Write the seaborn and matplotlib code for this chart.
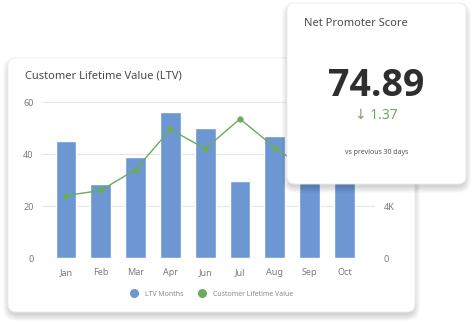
import numpy as np
import pandas as pd
import matplotlib
matplotlib.use("Agg")
import matplotlib.pyplot as plt
from matplotlib.patches import FancyBboxPatch
from matplotlib.lines import Line2D
from matplotlib.transforms import Affine2D
import seaborn as sns

months = ["Jan", "Feb", "Mar", "Apr", "Jun", "Jul", "Aug", "Sep", "Oct"]
ltv_months = [45, 28.5, 39, 56, 50, 29.5, 47, 40, 44]
ltv_value = [4800, 5200, 6800, 9900, 8400, 10700, 8500, 6600, 7200]
left_ticks = [0, 20, 40, 60]
right_ticks = [0, 4000]
right_tick_labels = ["0", "4K"]
nps_title = "Net Promoter Score"
nps_value = "74.89"
nps_delta = "↓ 1.37"
nps_note = "vs previous 30 days"

sns.set_theme(style="white")
plt.rcParams['font.family'] = ['Noto Sans', 'DejaVu Sans']

W, H, DPI = 474, 324, 100
fig = plt.figure(figsize=(W / DPI, H / DPI), dpi=DPI)
fig.patch.set_facecolor("white")
px = Affine2D().scale(1 / DPI) + fig.dpi_scale_trans


def card(x0, y0, x1, y1, z):
    # coordinates in pixels from top-left
    for i in range(7):
        g = 6 - i
        sh = FancyBboxPatch((x0 - g + 1, H - y1 - g - 3), (x1 - x0) + 2 * g - 2, (y1 - y0) + 2 * g - 2,
                            boxstyle="round,pad=0,rounding_size=%d" % (8 + g),
                            transform=px, facecolor="#000000", alpha=0.022,
                            edgecolor="none", zorder=z - 0.1)
        fig.add_artist(sh)
    p = FancyBboxPatch((x0, H - y1), x1 - x0, y1 - y0,
                       boxstyle="round,pad=0,rounding_size=8",
                       transform=px, facecolor="white", edgecolor="#ececec",
                       linewidth=0.6, zorder=z)
    fig.add_artist(p)


card(8, 58, 415, 312, -5)

ax = fig.add_axes([42 / W, 1 - 258 / H, (375 - 42) / W, (258 - 102) / H])
ax.set_zorder(1)
ax.patch.set_alpha(0)

df = pd.DataFrame({"month": months, "ltv_months": ltv_months, "ltv_value": ltv_value})
sns.barplot(data=df, x="month", y="ltv_months", color="#6d97d3", saturation=1,
            width=0.6, ax=ax, zorder=3)
ax.set_xlim(-0.69, 8.88)
ax.set_ylim(0, 60)
ax.set_yticks(left_ticks)
ax.set_xlabel("")
ax.set_ylabel("")
ax.grid(axis="y", color="#e6e6e6", linewidth=0.8, zorder=0)
for s in ax.spines.values():
    s.set_visible(False)
ax.tick_params(axis="both", length=0, labelsize=6.5, labelcolor="#7a7a7a")
ax.tick_params(axis="y", pad=6)
ax.tick_params(axis="x", pad=7)

ax2 = ax.twinx()
df["idx"] = np.arange(len(months))
sns.lineplot(data=df, x="idx", y="ltv_value", color="#6aab5c", linewidth=1,
             marker="o", markersize=4.5, markeredgewidth=0, ax=ax2)
ax2.set_ylim(0, 12000)
ax2.set_yticks(right_ticks)
ax2.set_yticklabels(right_tick_labels)
ax2.set_xlim(-0.69, 8.88)
ax2.set_ylabel("")
ax2.set_xlabel("")
for s in ax2.spines.values():
    s.set_visible(False)
ax2.tick_params(axis="y", length=0, labelsize=6.5, labelcolor="#7a7a7a", pad=6)

fig.text(25 / W, 1 - 76 / H, "Customer Lifetime Value (LTV)", fontsize=8,
         color="#4a4a4a", va="center", ha="left")

handles = [Line2D([], [], marker="o", linestyle="", color="#6d97d3", markersize=5.5),
           Line2D([], [], marker="o", linestyle="", color="#6aab5c", markersize=5.5)]
fig.legend(handles, ["LTV Months", "Customer Lifetime Value"], loc="center",
           bbox_to_anchor=(210 / W, 1 - 294 / H), ncol=2, frameon=False,
           fontsize=5, labelcolor="#8a8a8a", handletextpad=0.6, columnspacing=1.7)

# NPS card drawn above the chart
card(287, 3, 466, 184, 10)
fig.text(304 / W, 1 - 24 / H, nps_title, fontsize=8, color="#4a4a4a",
         va="center", ha="left", zorder=11)
fig.text(376 / W, 1 - 86 / H, nps_value, fontsize=27, fontweight="bold",
         color="#2e2e2e", va="center", ha="center", zorder=11,
         family=['Open Sans', 'DejaVu Sans'])
fig.text(376 / W, 1 - 115 / H, nps_delta, fontsize=10, color="#6aab5c",
         va="center", ha="center", zorder=11, family=['Noto Sans', 'DejaVu Sans'])
fig.text(377 / W, 1 - 152 / H, nps_note, fontsize=5, color="#555555",
         va="center", ha="center", zorder=11)

fig.savefig("out.png", dpi=DPI)
